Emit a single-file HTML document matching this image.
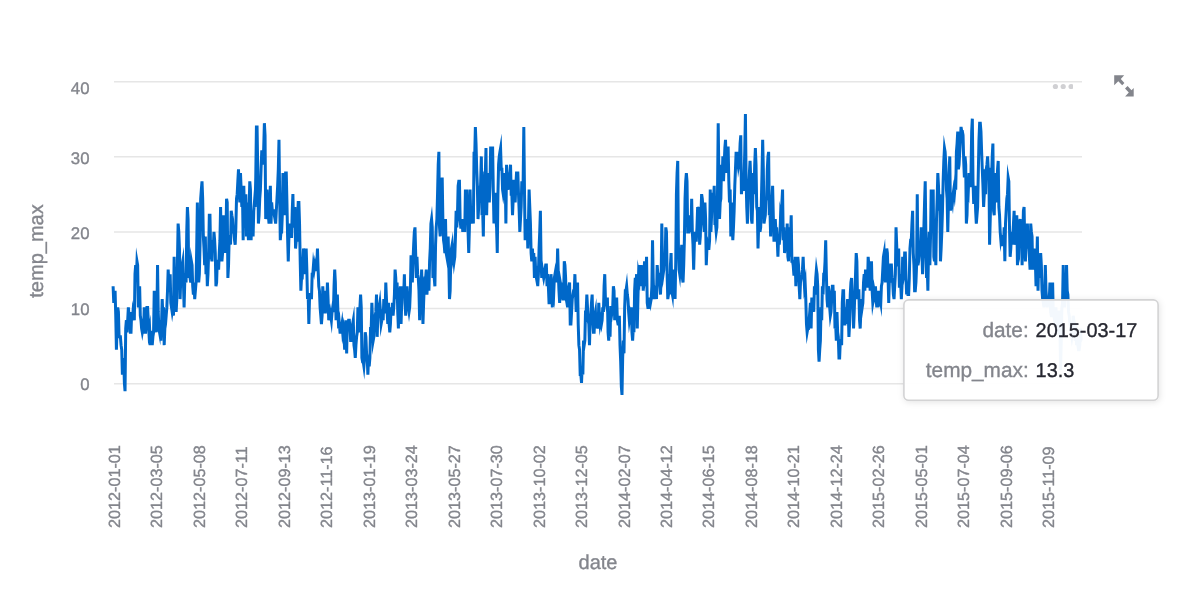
<!DOCTYPE html>
<html><head><meta charset="utf-8"><style>
html,body{margin:0;padding:0;background:#fff;width:1180px;height:592px;overflow:hidden}
svg{position:absolute;left:0;top:0;will-change:transform}
text{font-family:"Liberation Sans",sans-serif;stroke-width:0.35px;paint-order:stroke;text-rendering:geometricPrecision}
.xl,.yl{stroke:#83858c}
.xl{font-size:16.2px;fill:#83858c;text-anchor:start;dominant-baseline:central}
.yl{font-size:16.8px;fill:#83858c;text-anchor:end}
.g{stroke:#e6e6e6;stroke-width:1.5}
</style></head><body>
<svg width="1180" height="592" viewBox="0 0 1180 592">
<line x1="114" x2="1082" y1="81.8" y2="81.8" class="g"/>
<line x1="114" x2="1082" y1="156.7" y2="156.7" class="g"/>
<line x1="114" x2="1082" y1="231.9" y2="231.9" class="g"/>
<line x1="114" x2="1082" y1="308.6" y2="308.6" class="g"/>
<line x1="114" x2="1082" y1="383.8" y2="383.8" class="g"/>
<text x="89.5" y="94.0" class="yl">40</text>
<text x="89.5" y="163.9" class="yl">30</text>
<text x="89.5" y="239.0" class="yl">20</text>
<text x="89.5" y="314.8" class="yl">10</text>
<text x="89.5" y="389.9" class="yl">0</text>
<text transform="translate(42.5,251) rotate(-90)" font-size="20" fill="#83858c" stroke="#83858c" text-anchor="middle">temp_max</text>
<text transform="translate(115.00,528) rotate(-90)" class="xl">2012-01-01</text>
<text transform="translate(157.00,528) rotate(-90)" class="xl">2012-03-05</text>
<text transform="translate(200.00,528) rotate(-90)" class="xl">2012-05-08</text>
<text transform="translate(242.00,528) rotate(-90)" class="xl">2012-07-11</text>
<text transform="translate(285.00,528) rotate(-90)" class="xl">2012-09-13</text>
<text transform="translate(327.00,528) rotate(-90)" class="xl">2012-11-16</text>
<text transform="translate(370.00,528) rotate(-90)" class="xl">2013-01-19</text>
<text transform="translate(412.00,528) rotate(-90)" class="xl">2013-03-24</text>
<text transform="translate(455.00,528) rotate(-90)" class="xl">2013-05-27</text>
<text transform="translate(497.00,528) rotate(-90)" class="xl">2013-07-30</text>
<text transform="translate(540.00,528) rotate(-90)" class="xl">2013-10-02</text>
<text transform="translate(582.00,528) rotate(-90)" class="xl">2013-12-05</text>
<text transform="translate(625.00,528) rotate(-90)" class="xl">2014-02-07</text>
<text transform="translate(667.00,528) rotate(-90)" class="xl">2014-04-12</text>
<text transform="translate(709.00,528) rotate(-90)" class="xl">2014-06-15</text>
<text transform="translate(752.00,528) rotate(-90)" class="xl">2014-08-18</text>
<text transform="translate(794.00,528) rotate(-90)" class="xl">2014-10-21</text>
<text transform="translate(837.00,528) rotate(-90)" class="xl">2014-12-24</text>
<text transform="translate(879.00,528) rotate(-90)" class="xl">2015-02-26</text>
<text transform="translate(922.00,528) rotate(-90)" class="xl">2015-05-01</text>
<text transform="translate(964.00,528) rotate(-90)" class="xl">2015-07-04</text>
<text transform="translate(1007.00,528) rotate(-90)" class="xl">2015-09-06</text>
<text transform="translate(1049.00,528) rotate(-90)" class="xl">2015-11-09</text>
<text x="598" y="569.4" font-size="20" fill="#83858c" stroke="#83858c" text-anchor="middle">date</text>
<path d="M113.10,286.26L113.76,302.87L114.43,294.56L115.09,290.79L115.75,315.70L116.42,349.68L117.08,328.54L117.74,307.40L118.41,311.93L119.07,336.84L119.73,336.84L120.40,336.84L121.06,345.15L121.73,349.68L122.39,374.59L123.05,370.06L123.72,357.98L124.38,382.90L125.04,391.20L125.71,328.54L126.37,320.23L127.03,332.31L127.70,320.23L128.36,307.40L129.02,315.70L129.69,315.70L130.35,332.31L131.01,332.31L131.68,311.93L132.34,320.23L133.00,311.93L133.67,315.70L134.33,320.23L135.00,274.18L135.66,265.12L136.32,277.95L136.99,261.34L137.65,265.12L138.31,307.40L138.98,299.09L139.64,286.26L140.30,315.70L140.97,320.23L141.63,328.54L142.29,332.31L142.96,328.54L143.62,328.54L144.28,307.40L144.95,332.31L145.61,332.31L146.27,324.01L146.94,307.40L147.60,307.40L148.27,320.23L148.93,332.31L149.59,328.54L150.26,345.15L150.92,332.31L151.58,332.31L152.25,345.15L152.91,336.84L153.57,332.31L154.24,290.79L154.90,302.87L155.56,324.01L156.23,332.31L156.89,315.70L157.55,265.12L158.22,311.93L158.88,328.54L159.54,332.31L160.21,320.23L160.87,340.62L161.54,324.01L162.20,299.09L162.86,315.70L163.53,307.40L164.19,345.15L164.85,328.54L165.52,324.01L166.18,315.70L166.84,307.40L167.51,290.79L168.17,269.65L168.83,282.48L169.50,286.26L170.16,274.18L170.82,302.87L171.49,307.40L172.15,311.93L172.81,307.40L173.48,315.70L174.14,256.81L174.81,294.56L175.47,302.87L176.13,311.93L176.80,299.09L177.46,261.34L178.12,223.59L178.79,231.90L179.45,248.51L180.11,299.09L180.78,277.95L181.44,269.65L182.10,265.12L182.77,261.34L183.43,282.48L184.09,307.40L184.76,282.48L185.42,277.95L186.08,282.48L186.75,231.90L187.41,206.98L188.08,219.06L188.74,277.95L189.40,256.81L190.07,277.95L190.73,282.48L191.39,261.34L192.06,265.12L192.72,286.26L193.38,294.56L194.05,282.48L194.71,299.09L195.37,290.79L196.04,282.48L196.70,248.51L197.36,202.45L198.03,244.73L198.69,282.48L199.35,274.18L200.02,244.73L200.68,198.68L201.35,189.62L202.01,181.31L202.67,198.68L203.34,236.43L204.00,248.51L204.66,265.12L205.33,236.43L205.99,274.18L206.65,256.81L207.32,286.26L207.98,274.18L208.64,253.04L209.31,215.29L209.97,215.29L210.63,253.04L211.30,256.81L211.96,261.34L212.62,240.20L213.29,248.51L213.95,231.90L214.62,240.20L215.28,253.04L215.94,286.26L216.61,282.48L217.27,261.34L217.93,261.34L218.60,269.65L219.26,253.04L219.92,240.20L220.59,206.98L221.25,244.73L221.91,261.34L222.58,253.04L223.24,215.29L223.90,223.59L224.57,240.20L225.23,253.04L225.89,236.43L226.56,198.68L227.22,202.45L227.89,277.95L228.55,265.12L229.21,236.43L229.88,236.43L230.54,244.73L231.20,210.76L231.87,215.29L232.53,219.06L233.19,231.90L233.86,231.90L234.52,240.20L235.18,244.73L235.85,227.37L236.51,198.68L237.17,194.15L237.84,181.31L238.50,169.23L239.16,194.15L239.83,202.45L240.49,173.01L241.16,189.62L241.82,206.98L242.48,194.15L243.15,240.20L243.81,185.84L244.47,219.06L245.14,223.59L245.80,194.15L246.46,236.43L247.13,202.45L247.79,227.37L248.45,240.20L249.12,206.98L249.78,181.31L250.44,189.62L251.11,240.20L251.77,215.29L252.44,210.76L253.10,236.43L253.76,210.76L254.43,202.45L255.09,206.98L255.75,177.54L256.42,126.95L257.08,126.95L257.74,169.23L258.41,223.59L259.07,215.29L259.73,198.68L260.40,189.62L261.06,169.23L261.72,151.87L262.39,151.87L263.05,164.70L263.71,148.09L264.38,123.18L265.04,135.26L265.70,219.06L266.37,206.98L267.03,189.62L267.70,206.98L268.36,215.29L269.02,223.59L269.69,215.29L270.35,185.84L271.01,223.59L271.68,202.45L272.34,210.76L273.00,210.76L273.67,210.76L274.33,215.29L274.99,219.06L275.66,223.59L276.32,210.76L276.98,198.68L277.65,185.84L278.31,169.23L278.98,139.79L279.64,194.15L280.30,240.20L280.97,231.90L281.63,231.90L282.29,215.29L282.96,173.01L283.62,185.84L284.28,215.29L284.95,198.68L285.61,173.01L286.27,173.01L286.94,202.45L287.60,236.43L288.26,261.34L288.93,236.43L289.59,236.43L290.25,223.59L290.92,236.43L291.58,236.43L292.25,210.76L292.91,194.15L293.57,227.37L294.24,223.59L294.90,206.98L295.56,248.51L296.23,240.20L296.89,240.20L297.55,219.06L298.22,202.45L298.88,202.45L299.54,223.59L300.21,261.34L300.87,290.79L301.53,277.95L302.20,277.95L302.86,265.12L303.52,248.51L304.19,253.04L304.85,261.34L305.51,274.18L306.18,248.51L306.84,269.65L307.51,299.09L308.17,294.56L308.83,324.01L309.50,299.09L310.16,294.56L310.82,294.56L311.49,299.09L312.15,274.18L312.81,274.18L313.48,265.12L314.14,269.65L314.80,265.12L315.47,269.65L316.13,269.65L316.79,265.12L317.46,248.51L318.12,269.65L318.78,286.26L319.45,290.79L320.11,307.40L320.78,315.70L321.44,324.01L322.10,315.70L322.77,286.26L323.43,299.09L324.09,299.09L324.76,311.93L325.42,311.93L326.08,290.79L326.75,307.40L327.41,282.48L328.07,299.09L328.74,320.23L329.40,315.70L330.06,311.93L330.73,315.70L331.39,320.23L332.05,311.93L332.72,307.40L333.38,311.93L334.05,286.26L334.71,269.65L335.37,282.48L336.04,320.23L336.70,311.93L337.36,294.56L338.03,315.70L338.69,328.54L339.35,324.01L340.02,332.31L340.68,332.31L341.34,328.54L342.01,324.01L342.67,332.31L343.33,328.54L344.00,336.84L344.66,349.68L345.32,332.31L345.99,320.23L346.65,353.45L347.32,320.23L347.98,328.54L348.64,320.23L349.31,320.23L349.97,328.54L350.63,340.62L351.30,340.62L351.96,332.31L352.62,324.01L353.29,320.23L353.95,345.15L354.61,349.68L355.28,357.98L355.94,345.15L356.60,336.84L357.27,332.31L357.93,307.40L358.60,332.31L359.26,328.54L359.92,307.40L360.59,294.56L361.25,307.40L361.91,357.98L362.58,361.76L363.24,361.76L363.90,366.29L364.57,357.98L365.23,332.31L365.89,336.84L366.56,353.45L367.22,357.98L367.88,374.59L368.55,357.98L369.21,366.29L369.87,357.98L370.54,328.54L371.20,328.54L371.87,302.87L372.53,320.23L373.19,340.62L373.86,336.84L374.52,320.23L375.18,315.70L375.85,311.93L376.51,294.56L377.17,336.84L377.84,315.70L378.50,302.87L379.16,307.40L379.83,302.87L380.49,311.93L381.15,324.01L381.82,320.23L382.48,315.70L383.14,320.23L383.81,299.09L384.47,311.93L385.13,311.93L385.80,282.48L386.46,299.09L387.13,311.93L387.79,324.01L388.45,302.87L389.12,324.01L389.78,332.31L390.44,324.01L391.11,307.40L391.77,315.70L392.43,302.87L393.10,315.70L393.76,307.40L394.42,294.56L395.09,269.65L395.75,277.95L396.41,299.09L397.08,282.48L397.74,311.93L398.40,328.54L399.07,290.79L399.73,294.56L400.40,286.26L401.06,324.01L401.72,302.87L402.39,286.26L403.05,294.56L403.71,294.56L404.38,274.18L405.04,302.87L405.70,315.70L406.37,294.56L407.03,286.26L407.69,299.09L408.36,307.40L409.02,311.93L409.68,307.40L410.35,290.79L411.01,256.81L411.67,256.81L412.34,282.48L413.00,261.34L413.67,244.73L414.33,231.90L414.99,227.37L415.66,253.04L416.32,277.95L416.98,256.81L417.65,274.18L418.31,277.95L418.97,290.79L419.64,320.23L420.30,282.48L420.96,290.79L421.63,269.65L422.29,290.79L422.95,324.01L423.62,302.87L424.28,286.26L424.94,277.95L425.61,277.95L426.27,269.65L426.94,294.56L427.60,282.48L428.26,277.95L428.93,290.79L429.59,261.34L430.25,248.51L430.92,223.59L431.58,219.06L432.24,227.37L432.91,277.95L433.57,269.65L434.23,277.95L434.90,286.26L435.56,244.73L436.22,227.37L436.89,219.06L437.55,194.15L438.22,164.70L438.88,151.87L439.54,227.37L440.21,236.43L440.87,210.76L441.53,185.84L442.20,177.54L442.86,219.06L443.52,240.20L444.19,244.73L444.85,253.04L445.51,219.06L446.18,253.04L446.84,256.81L447.50,244.73L448.17,236.43L448.83,265.12L449.49,299.09L450.16,290.79L450.82,256.81L451.49,248.51L452.15,244.73L452.81,256.81L453.48,253.04L454.14,261.34L454.80,256.81L455.47,236.43L456.13,210.76L456.79,227.37L457.46,215.29L458.12,185.84L458.78,181.31L459.45,181.31L460.11,219.06L460.77,227.37L461.44,227.37L462.10,219.06L462.76,231.90L463.43,227.37L464.09,223.59L464.75,231.90L465.42,189.62L466.08,202.45L466.75,189.62L467.41,206.98L468.07,231.90L468.74,253.04L469.40,227.37L470.06,189.62L470.73,215.29L471.39,223.59L472.05,206.98L472.72,215.29L473.38,223.59L474.04,151.87L474.71,156.40L475.37,126.95L476.03,143.56L476.70,169.23L477.36,185.84L478.02,219.06L478.69,206.98L479.35,185.84L480.02,202.45L480.68,181.31L481.34,156.40L482.01,215.29L482.67,210.76L483.33,236.43L484.00,185.84L484.66,173.01L485.32,173.01L485.99,148.09L486.65,215.29L487.31,185.84L487.98,173.01L488.64,194.15L489.30,202.45L489.97,185.84L490.63,148.09L491.29,148.09L491.96,148.09L492.62,148.09L493.29,189.62L493.95,223.59L494.61,194.15L495.28,194.15L495.94,219.06L496.60,227.37L497.27,253.04L497.93,194.15L498.59,164.70L499.26,156.40L499.92,151.87L500.58,148.09L501.25,169.23L501.91,169.23L502.57,189.62L503.24,194.15L503.90,189.62L504.56,173.01L505.23,177.54L505.89,223.59L506.56,164.70L507.22,189.62L507.88,185.84L508.55,181.31L509.21,189.62L509.87,173.01L510.54,164.70L511.20,194.15L511.86,194.15L512.53,215.29L513.19,198.68L513.85,181.31L514.52,181.31L515.18,202.45L515.84,185.84L516.51,173.01L517.17,173.01L517.84,173.01L518.50,194.15L519.16,210.76L519.83,231.90L520.49,219.06L521.15,206.98L521.82,181.31L522.48,185.84L523.14,181.31L523.81,126.95L524.47,189.62L525.13,240.20L525.80,219.06L526.46,240.20L527.12,219.06L527.79,248.51L528.45,223.59L529.11,189.62L529.78,206.98L530.44,223.59L531.11,253.04L531.77,261.34L532.43,248.51L533.10,261.34L533.76,253.04L534.42,277.95L535.09,256.81L535.75,274.18L536.41,277.95L537.08,274.18L537.74,286.26L538.40,274.18L539.07,248.51L539.73,231.90L540.39,210.76L541.06,261.34L541.72,277.95L542.38,269.65L543.05,274.18L543.71,277.95L544.38,274.18L545.04,269.65L545.70,265.12L546.37,265.12L547.03,286.26L547.69,274.18L548.36,286.26L549.02,302.87L549.68,302.87L550.35,294.56L551.01,274.18L551.67,286.26L552.34,307.40L553.00,290.79L553.66,294.56L554.33,277.95L554.99,274.18L555.65,282.48L556.32,269.65L556.98,274.18L557.64,248.51L558.31,274.18L558.97,290.79L559.64,302.87L560.30,282.48L560.96,286.26L561.63,299.09L562.29,282.48L562.95,299.09L563.62,299.09L564.28,261.34L564.94,265.12L565.61,277.95L566.27,299.09L566.93,302.87L567.60,307.40L568.26,294.56L568.92,286.26L569.59,282.48L570.25,324.01L570.91,324.01L571.58,311.93L572.24,299.09L572.91,294.56L573.57,290.79L574.23,290.79L574.90,274.18L575.56,294.56L576.22,311.93L576.89,299.09L577.55,282.48L578.21,324.01L578.88,345.15L579.54,349.68L580.20,374.59L580.87,374.59L581.53,382.90L582.19,366.29L582.86,374.59L583.52,340.62L584.18,345.15L584.85,340.62L585.51,311.93L586.18,311.93L586.84,294.56L587.50,307.40L588.17,320.23L588.83,324.01L589.49,345.15L590.16,320.23L590.82,315.70L591.48,302.87L592.15,294.56L592.81,320.23L593.47,332.31L594.14,332.31L594.80,315.70L595.46,311.93L596.13,328.54L596.79,315.70L597.45,320.23L598.12,328.54L598.78,302.87L599.45,315.70L600.11,324.01L600.77,320.23L601.44,324.01L602.10,320.23L602.76,307.40L603.43,311.93L604.09,286.26L604.75,274.18L605.42,299.09L606.08,302.87L606.74,299.09L607.41,299.09L608.07,332.31L608.73,340.62L609.40,311.93L610.06,336.84L610.73,307.40L611.39,307.40L612.05,311.93L612.72,307.40L613.38,286.26L614.04,290.79L614.71,320.23L615.37,311.93L616.03,299.09L616.70,299.09L617.36,320.23L618.02,324.01L618.69,324.01L619.35,315.70L620.01,345.15L620.68,361.76L621.34,386.67L622.00,394.98L622.67,357.98L623.33,340.62L624.00,353.45L624.66,307.40L625.32,290.79L625.99,290.79L626.65,286.26L627.31,294.56L627.98,299.09L628.64,311.93L629.30,320.23L629.97,315.70L630.63,320.23L631.29,307.40L631.96,332.31L632.62,340.62L633.28,328.54L633.95,332.31L634.61,290.79L635.27,277.95L635.94,286.26L636.60,274.18L637.26,328.54L637.93,299.09L638.59,274.18L639.26,277.95L639.92,265.12L640.58,282.48L641.25,265.12L641.91,286.26L642.57,269.65L643.24,290.79L643.90,274.18L644.56,261.34L645.23,277.95L645.89,274.18L646.55,256.81L647.22,302.87L647.88,307.40L648.54,307.40L649.21,299.09L649.87,299.09L650.53,302.87L651.20,299.09L651.86,286.26L652.53,240.20L653.19,277.95L653.85,299.09L654.52,290.79L655.18,294.56L655.84,294.56L656.51,299.09L657.17,265.12L657.83,274.18L658.50,274.18L659.16,282.48L659.82,286.26L660.49,294.56L661.15,277.95L661.81,223.59L662.48,265.12L663.14,274.18L663.80,269.65L664.47,253.04L665.13,261.34L665.80,227.37L666.46,231.90L667.12,274.18L667.79,299.09L668.45,294.56L669.11,274.18L669.78,294.56L670.44,265.12L671.10,253.04L671.77,290.79L672.43,294.56L673.09,277.95L673.76,274.18L674.42,269.65L675.08,299.09L675.75,261.34L676.41,194.15L677.08,173.01L677.74,160.93L678.40,244.73L679.07,269.65L679.73,274.18L680.39,265.12L681.06,256.81L681.72,244.73L682.38,277.95L683.05,282.48L683.71,265.12L684.37,240.20L685.04,198.68L685.70,181.31L686.36,173.01L687.03,181.31L687.69,231.90L688.35,231.90L689.02,231.90L689.68,223.59L690.35,215.29L691.01,231.90L691.67,198.68L692.34,231.90L693.00,244.73L693.66,269.65L694.33,244.73L694.99,231.90L695.65,240.20L696.32,240.20L696.98,227.37L697.64,206.98L698.31,215.29L698.97,206.98L699.63,244.73L700.30,236.43L700.96,215.29L701.62,194.15L702.29,198.68L702.95,206.98L703.62,223.59L704.28,231.90L704.94,202.45L705.61,219.06L706.27,265.12L706.93,248.51L707.60,244.73L708.26,248.51L708.92,248.51L709.59,240.20L710.25,189.62L710.91,231.90L711.58,215.29L712.24,194.15L712.90,194.15L713.57,198.68L714.23,185.84L714.89,223.59L715.56,223.59L716.22,231.90L716.88,227.37L717.55,189.62L718.21,123.18L718.88,177.54L719.54,219.06L720.20,202.45L720.87,198.68L721.53,164.70L722.19,177.54L722.86,156.40L723.52,181.31L724.18,164.70L724.85,148.09L725.51,139.79L726.17,160.93L726.84,173.01L727.50,148.09L728.16,148.09L728.83,181.31L729.49,202.45L730.15,189.62L730.82,236.43L731.48,202.45L732.15,223.59L732.81,240.20L733.47,227.37L734.14,210.76L734.80,185.84L735.46,169.23L736.13,151.87L736.79,156.40L737.45,160.93L738.12,151.87L738.78,164.70L739.44,160.93L740.11,143.56L740.77,135.26L741.43,194.15L742.10,185.84L742.76,189.62L743.42,189.62L744.09,177.54L744.75,151.87L745.42,114.12L746.08,177.54L746.74,206.98L747.41,223.59L748.07,198.68L748.73,189.62L749.40,173.01L750.06,160.93L750.72,177.54L751.39,219.06L752.05,223.59L752.71,202.45L753.38,173.01L754.04,194.15L754.70,164.70L755.37,148.09L756.03,164.70L756.70,206.98L757.36,210.76L758.02,248.51L758.69,223.59L759.35,206.98L760.01,231.90L760.68,227.37L761.34,202.45L762.00,173.01L762.67,139.79L763.33,169.23L763.99,223.59L764.66,219.06L765.32,215.29L765.98,198.68L766.65,198.68L767.31,169.23L767.97,156.40L768.64,151.87L769.30,215.29L769.97,210.76L770.63,236.43L771.29,202.45L771.96,198.68L772.62,185.84L773.28,215.29L773.95,240.20L774.61,240.20L775.27,219.06L775.94,231.90L776.60,227.37L777.26,240.20L777.93,256.81L778.59,236.43L779.25,244.73L779.92,236.43L780.58,215.29L781.24,219.06L781.91,202.45L782.57,189.62L783.24,240.20L783.90,227.37L784.56,253.04L785.23,244.73L785.89,244.73L786.55,248.51L787.22,223.59L787.88,256.81L788.54,261.34L789.21,227.37L789.87,256.81L790.53,236.43L791.20,215.29L791.86,261.34L792.52,261.34L793.19,265.12L793.85,274.18L794.51,274.18L795.18,256.81L795.84,286.26L796.50,265.12L797.17,269.65L797.83,256.81L798.50,265.12L799.16,286.26L799.82,299.09L800.49,282.48L801.15,277.95L801.81,274.18L802.48,269.65L803.14,256.81L803.80,274.18L804.47,286.26L805.13,282.48L805.79,299.09L806.46,324.01L807.12,332.31L807.78,328.54L808.45,328.54L809.11,320.23L809.77,311.93L810.44,302.87L811.10,328.54L811.77,299.09L812.43,299.09L813.09,299.09L813.76,311.93L814.42,286.26L815.08,294.56L815.75,277.95L816.41,269.65L817.07,274.18L817.74,286.26L818.40,349.68L819.06,361.76L819.73,349.68L820.39,340.62L821.05,307.40L821.72,320.23L822.38,286.26L823.04,294.56L823.71,274.18L824.37,274.18L825.04,261.34L825.70,240.20L826.36,274.18L827.03,299.09L827.69,307.40L828.35,286.26L829.02,290.79L829.68,307.40L830.34,315.70L831.01,311.93L831.67,299.09L832.33,286.26L833.00,286.26L833.66,302.87L834.32,290.79L834.99,328.54L835.65,324.01L836.32,340.62L836.98,311.93L837.64,332.31L838.31,336.84L838.97,357.98L839.63,357.98L840.30,340.62L840.96,340.62L841.62,345.15L842.29,302.87L842.95,290.79L843.61,290.79L844.28,324.01L844.94,324.01L845.60,307.40L846.27,324.01L846.93,311.93L847.59,299.09L848.26,311.93L848.92,336.84L849.59,324.01L850.25,294.56L850.91,282.48L851.58,277.95L852.24,307.40L852.90,307.40L853.57,328.54L854.23,311.93L854.89,290.79L855.56,274.18L856.22,253.04L856.88,261.34L857.55,299.09L858.21,290.79L858.87,290.79L859.54,320.23L860.20,328.54L860.86,311.93L861.53,299.09L862.19,307.40L862.86,302.87L863.52,282.48L864.18,274.18L864.85,290.79L865.51,269.65L866.17,282.48L866.84,286.26L867.50,286.26L868.16,256.81L868.83,265.12L869.49,274.18L870.15,290.79L870.82,269.65L871.48,261.34L872.14,290.79L872.81,302.87L873.47,299.09L874.13,290.79L874.80,294.56L875.46,286.26L876.12,299.09L876.79,307.40L877.45,294.56L878.12,307.40L878.78,290.79L879.44,299.09L880.11,299.09L880.77,302.87L881.43,286.26L882.10,282.48L882.76,269.65L883.42,256.81L884.09,253.04L884.75,274.18L885.41,282.48L886.08,274.18L886.74,248.51L887.40,253.04L888.07,277.95L888.73,302.87L889.39,277.95L890.06,282.48L890.72,265.12L891.39,265.12L892.05,277.95L892.71,282.48L893.38,294.56L894.04,299.09L894.70,286.26L895.37,274.18L896.03,227.37L896.69,244.73L897.36,265.12L898.02,265.12L898.68,248.51L899.35,286.26L900.01,286.26L900.67,282.48L901.34,299.09L902.00,286.26L902.66,256.81L903.33,277.95L903.99,274.18L904.66,253.04L905.32,253.04L905.98,277.95L906.65,294.56L907.31,282.48L907.97,294.56L908.64,294.56L909.30,277.95L909.96,248.51L910.63,240.20L911.29,240.20L911.95,223.59L912.62,210.76L913.28,253.04L913.94,265.12L914.61,290.79L915.27,290.79L915.93,282.48L916.60,265.12L917.26,194.15L917.93,265.12L918.59,261.34L919.25,253.04L919.92,244.73L920.58,244.73L921.24,227.37L921.91,253.04L922.57,274.18L923.23,256.81L923.90,227.37L924.56,202.45L925.22,181.31L925.89,236.43L926.55,277.95L927.21,265.12L927.88,290.79L928.54,248.51L929.21,231.90L929.87,265.12L930.53,236.43L931.20,189.62L931.86,219.06L932.52,206.98L933.19,189.62L933.85,256.81L934.51,261.34L935.18,248.51L935.84,265.12L936.50,219.06L937.17,198.68L937.83,173.01L938.49,185.84L939.16,210.76L939.82,194.15L940.48,261.34L941.15,248.51L941.81,231.90L942.48,210.76L943.14,181.31L943.80,160.93L944.47,148.09L945.13,151.87L945.79,164.70L946.46,189.62L947.12,198.68L947.78,231.90L948.45,202.45L949.11,173.01L949.77,156.40L950.44,210.76L951.10,194.15L951.76,198.68L952.43,202.45L953.09,194.15L953.75,189.62L954.42,194.15L955.08,185.84L955.75,189.62L956.41,151.87L957.07,143.56L957.74,131.49L958.40,169.23L959.06,164.70L959.73,151.87L960.39,139.79L961.05,126.95L961.72,131.49L962.38,131.49L963.04,135.26L963.71,160.93L964.37,177.54L965.03,156.40L965.70,164.70L966.36,223.59L967.02,215.29L967.69,185.84L968.35,189.62L969.01,173.01L969.68,185.84L970.34,185.84L971.01,173.01L971.67,131.49L972.33,118.65L973.00,181.31L973.66,202.45L974.32,202.45L974.99,185.84L975.65,210.76L976.31,223.59L976.98,215.29L977.64,206.98L978.30,173.01L978.97,139.79L979.63,123.18L980.29,123.18L980.96,131.49L981.62,151.87L982.28,169.23L982.95,185.84L983.61,206.98L984.28,194.15L984.94,169.23L985.60,194.15L986.27,169.23L986.93,164.70L987.59,156.40L988.26,169.23L988.92,169.23L989.58,244.73L990.25,219.06L990.91,194.15L991.57,177.54L992.24,156.40L992.90,143.56L993.56,210.76L994.23,215.29L994.89,181.31L995.55,173.01L996.22,202.45L996.88,189.62L997.55,169.23L998.21,160.93L998.87,206.98L999.54,215.29L1000.20,231.90L1000.86,240.20L1001.53,236.43L1002.19,236.43L1002.85,244.73L1003.52,244.73L1004.18,227.37L1004.84,261.34L1005.51,223.59L1006.17,210.76L1006.83,198.68L1007.50,194.15L1008.16,177.54L1008.83,181.31L1009.49,227.37L1010.15,256.81L1010.82,248.51L1011.48,231.90L1012.14,244.73L1012.81,236.43L1013.47,223.59L1014.13,210.76L1014.80,244.73L1015.46,240.20L1016.12,227.37L1016.79,215.29L1017.45,265.12L1018.11,244.73L1018.78,248.51L1019.44,223.59L1020.10,219.06L1020.77,244.73L1021.43,223.59L1022.10,265.12L1022.76,236.43L1023.42,210.76L1024.09,206.98L1024.75,244.73L1025.41,261.34L1026.08,240.20L1026.74,236.43L1027.40,223.59L1028.07,248.51L1028.73,244.73L1029.39,256.81L1030.06,269.65L1030.72,223.59L1031.38,231.90L1032.05,236.43L1032.71,269.65L1033.37,253.04L1034.04,248.51L1034.70,261.34L1035.37,261.34L1036.03,286.26L1036.69,269.65L1037.36,236.43L1038.02,290.79L1038.68,261.34L1039.35,277.95L1040.01,269.65L1040.67,253.04L1041.34,265.12L1042.00,290.79L1042.66,299.09L1043.33,302.87L1043.99,307.40L1044.65,294.56L1045.32,265.12L1045.98,290.79L1046.64,299.09L1047.31,307.40L1047.97,299.09L1048.63,299.09L1049.30,299.09L1049.96,282.48L1050.63,311.93L1051.29,315.70L1051.95,315.70L1052.62,282.48L1053.28,315.70L1053.94,315.70L1054.61,320.23L1055.27,315.70L1055.93,307.40L1056.60,332.31L1057.26,332.31L1057.92,328.54L1058.59,311.93L1059.25,311.93L1059.91,328.54L1060.58,370.06L1061.24,340.62L1061.90,307.40L1062.57,302.87L1063.23,265.12L1063.90,302.87L1064.56,307.40L1065.22,286.26L1065.89,299.09L1066.55,265.12L1067.21,290.79L1067.88,294.56L1068.54,311.93L1069.20,315.70L1069.87,324.01L1070.53,324.01L1071.19,332.31L1071.86,336.84L1072.52,332.31L1073.18,315.70L1073.85,320.23L1074.51,324.01L1075.17,340.62L1075.84,324.01L1076.50,345.15L1077.17,340.62L1077.83,345.15L1078.49,349.68L1079.16,349.68L1079.82,345.15L1080.48,328.54L1081.15,340.62L1081.81,340.62" fill="none" stroke="#0068c9" stroke-width="3" stroke-linejoin="miter" stroke-miterlimit="10"/>
<clipPath id="dc"><rect x="1060" y="80" width="12.9" height="12"/></clipPath><g fill="#d0d0d3"><circle cx="1055.4" cy="86.5" r="2.6"/><circle cx="1063.2" cy="86.5" r="2.6"/><circle cx="1071.1" cy="86.5" r="2.6" clip-path="url(#dc)"/></g>
<g fill="#83858c"><path d="M1114.2,75.2 L1124.2,75.2 L1120.8,78.9 L1124.4,82.9 L1122.2,85.2 L1118.3,81.3 L1114.2,85.2 Z"/><path d="M1133.7,96.6 L1133.7,87.9 L1131.5,90.2 L1127.6,86.0 L1125.0,88.4 L1128.8,92.4 L1125.1,96.6 Z"/></g>
</svg>
<svg width="1180" height="592" viewBox="0 0 1180 592" style="z-index:2">
<defs><filter id="sh" x="-10%" y="-20%" width="120%" height="140%"><feDropShadow dx="0.8" dy="1.2" stdDeviation="3" flood-color="#000" flood-opacity="0.11"/></filter></defs>
<rect x="903.9" y="299.9" width="254.2" height="100.4" rx="4.8" fill="#fff" fill-opacity="0.95" stroke="#d3d3d4" stroke-width="1.6" filter="url(#sh)"/>
<g font-size="20.8" fill="#83858c" stroke="#83858c" stroke-width="0.3" text-anchor="end"><text x="1028.7" y="336.6">date:</text><text x="1028.7" y="376.7">temp_max:</text></g>
<g font-size="19.9" fill="#262730" stroke="#262730" stroke-width="0.3"><text x="1035.6" y="336.7">2015-03-17</text><text x="1035.6" y="376.8">13.3</text></g>
</svg>
</body></html>
